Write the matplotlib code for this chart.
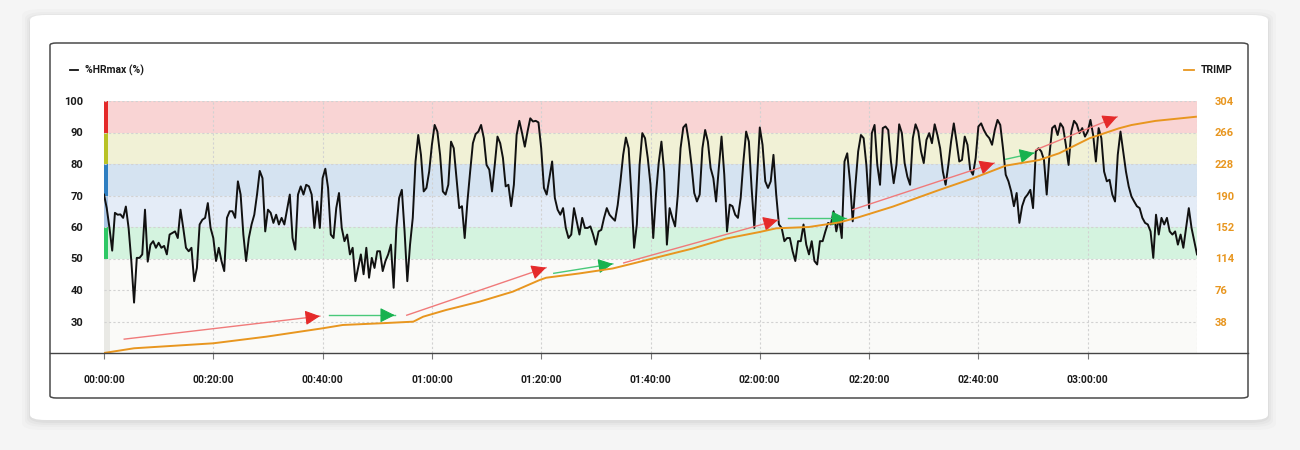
import matplotlib
matplotlib.use("Agg")
import matplotlib.pyplot as plt
import numpy as np
from matplotlib.patches import FancyBboxPatch, Rectangle
from matplotlib.lines import Line2D
from matplotlib.ticker import FuncFormatter

plt.rcParams['font.family'] = ['Roboto', 'DejaVu Sans']

# ---------------- data ----------------
SAMPLE_MIN = 0.5  # one HR sample every 30 s
hr_pct = [
    70.3, 66.0, 59.7, 52.5, 64.5, 63.9, 64.0, 62.9, 66.5, 59.7,
    49.2, 36.0, 50.2, 50.2, 51.3, 65.5, 49.0, 54.4, 55.5, 53.4,
    55.0, 53.4, 54.0, 51.3, 57.6, 58.1, 58.6, 56.5, 65.5, 59.7,
    53.4, 52.3, 53.4, 42.8, 47.0, 60.8, 62.3, 62.9, 67.6, 59.7,
    56.5, 49.2, 53.4, 49.2, 46.0, 62.9, 65.0, 65.0, 62.9, 74.5,
    70.3, 57.6, 49.2, 56.5, 60.8, 63.9, 70.3, 77.8, 75.5, 58.6,
    65.5, 64.5, 61.3, 63.9, 60.8, 62.9, 60.8, 65.5, 70.3, 56.5,
    52.8, 70.3, 72.9, 70.3, 73.4, 72.9, 70.3, 59.7, 68.1, 59.7,
    75.5, 78.5, 72.4, 57.6, 56.5, 66.0, 70.8, 59.7, 55.5, 57.6,
    51.3, 53.4, 42.8, 47.0, 51.3, 45.0, 53.4, 43.9, 50.2, 47.0,
    52.3,
    52.3, 46.0, 49.2, 51.3, 54.4, 40.7, 59.7, 69.2, 71.8, 58.6,
    42.8, 54.4, 62.9, 80.8, 89.2, 82.9, 71.3, 72.4, 77.6, 86.1,
    92.4, 90.3, 82.9, 71.3, 70.3, 73.4, 87.1, 85.0, 75.5, 66.0,
    66.6, 56.5, 68.1, 77.6, 86.6, 89.5, 90.3, 92.4, 88.2, 79.7,
    78.2, 71.3, 79.7, 88.7, 86.6, 81.9, 72.9, 73.4, 66.6, 73.4,
    89.2, 93.7, 89.8, 85.5, 90.3, 94.5, 93.5, 93.7, 93.2, 85.0,
    72.4, 70.3, 75.5, 80.8, 69.2, 65.5, 63.9, 66.0, 59.7, 56.5,
    57.6, 66.0, 61.8, 57.6, 62.9, 59.7, 59.7, 60.2, 57.6, 54.4,
    58.6, 59.1, 62.9, 66.0, 63.9, 62.9, 62.0, 67.0, 74.5, 82.9,
    88.4, 85.0, 70.3, 53.4, 60.8, 79.7, 89.8, 88.2, 81.9, 73.4,
    56.5, 70.3, 80.3,
    87.1, 77.6, 54.4, 66.0, 62.9, 60.2, 70.3, 85.0, 91.6, 92.6,
    87.1, 79.7, 70.8, 68.1, 70.3, 85.0, 90.8, 87.1, 78.7, 75.5,
    68.1, 78.7, 88.7, 76.6, 58.6, 67.1, 66.6, 63.9, 62.9, 69.2,
    80.8, 90.3, 87.1, 72.4, 59.7, 75.5, 91.6, 86.1, 74.5, 72.4,
    74.5, 82.9, 70.3, 60.8, 59.7, 55.5, 56.5, 56.5, 52.3, 49.2,
    55.5, 55.5, 60.8, 54.4, 51.3, 55.5, 49.2, 48.1, 55.5, 55.5,
    58.6, 61.3, 60.8, 65.0, 58.6, 62.9, 56.5, 80.8, 83.4, 74.5,
    61.8, 73.4, 84.0, 89.2, 88.2, 79.7, 66.0, 89.8, 92.4, 79.7,
    73.4, 91.4, 91.9, 90.8, 80.8, 73.9, 79.7, 92.6, 89.8, 80.3,
    76.0, 73.4, 88.2, 92.6, 90.3, 84.0, 80.3, 87.7, 89.8, 86.6,
    92.6, 89.2,
    85.0, 77.6, 73.4, 79.7, 87.1, 92.9, 87.1, 80.8, 81.3, 88.7,
    86.1, 78.2, 76.6, 81.9, 91.9, 92.9, 90.8, 89.2, 88.2, 86.1,
    90.8, 94.0, 92.4, 85.0, 76.6, 74.5, 71.3, 66.6, 70.8, 61.3,
    66.6, 69.2, 70.3, 71.8, 66.0, 84.0, 85.0, 84.0, 81.3, 70.3,
    82.9, 91.4, 92.2, 89.2, 92.9, 91.6, 86.1, 79.7, 90.3, 93.7,
    92.6, 89.8, 91.4, 88.7, 90.3, 94.0, 89.2, 80.8, 91.4, 88.2,
    77.6, 74.5, 75.0, 70.3, 68.1, 82.9, 90.3, 84.0, 77.6, 72.9,
    69.7, 68.1, 66.6, 66.0, 62.9, 61.3, 60.8, 58.6, 50.2, 63.9,
    57.6, 62.9, 60.8, 62.9, 58.6, 57.6, 58.6, 54.4, 57.6, 53.4,
    59.7, 66.0, 59.7, 55.5, 51.3,
]
hr_minutes = np.arange(len(hr_pct)) * SAMPLE_MIN

trimp_minutes = [0, 5.5, 20, 29.7, 40, 43.7, 50.5, 56.6, 58.4, 62.6, 68.7, 74.8,
                 79.7, 80.9, 87, 93.1, 96.8, 101.6, 107.7, 113.8, 120, 123, 129,
                 134.6, 138.2, 144.3, 152.8, 159, 165, 171.1, 174.8, 180.3, 185.7,
                 188, 192.4, 199.8]
trimp_values = [0, 5.7, 11.7, 19.7, 29.8, 33.8, 35.8, 37.8, 43.8, 51.9, 61.9, 74,
                88, 90.8, 96, 102, 108, 116, 126, 138, 146, 150.4, 152,
                157.6, 164, 176.5, 196.6, 210.7, 226, 232.8, 241, 259, 271,
                275, 280, 285]

zone_edges = [50, 60, 70, 80, 90, 100]
zone_fill = ['#d4f3df', '#e4ecf7', '#d5e3f1', '#f1f1d6', '#f9d4d4']
zone_mark = ['#2fc866', '#a9c5e4', '#2f7fc1', '#b9c226', '#e42a2a']

hr_ticks = [30, 40, 50, 60, 70, 80, 90, 100]
trimp_ticks = [38, 76, 114, 152, 190, 228, 266, 304]
time_ticks = [0, 20, 40, 60, 80, 100, 120, 140, 160, 180]

# arrows: (start_min, start_hr, end_min, end_hr, kind)
arrows = [
    (3.7, 24.4, 39.5, 31.7, 'up'),
    (41.2, 32.0, 53.2, 32.0, 'flat'),
    (55.4, 32.0, 80.9, 47.1, 'up'),
    (82.3, 45.3, 93.1, 48.3, 'flat'),
    (95.1, 48.6, 123.3, 62.2, 'up'),
    (125.1, 62.7, 135.8, 62.7, 'flat'),
    (137.0, 65.5, 162.9, 80.3, 'up'),
    (165.0, 81.5, 170.2, 83.5, 'flat'),
    (170.5, 84.5, 185.4, 95.0, 'up'),
]

# ---------------- figure ----------------
W, H = 1300, 450
fig = plt.figure(figsize=(13, 4.5), dpi=100)
fig.patch.set_facecolor('#f5f5f5')

def px_box(x0, y0, x1, y1):
    return (x0 / W, 1 - y1 / H, (x1 - x0) / W, (y1 - y0) / H)

# card shadow + card
for off, a in [(8, 0.015), (5, 0.02), (3, 0.025), (1, 0.03)]:
    bx, by, bw, bh = px_box(30 - off, 15 - off + 2, 1268 + off, 420 + off + 2)
    fig.patches.append(FancyBboxPatch((bx, by), bw, bh, boxstyle="round,pad=0,rounding_size=0.015",
                                      transform=fig.transFigure, facecolor='black', alpha=a,
                                      edgecolor='none', zorder=0))
bx, by, bw, bh = px_box(30, 15, 1268, 420)
fig.patches.append(FancyBboxPatch((bx, by), bw, bh, boxstyle="round,pad=0,rounding_size=0.012",
                                  transform=fig.transFigure, facecolor='white',
                                  edgecolor='none', zorder=1))
bx, by, bw, bh = px_box(50, 43, 1248, 398)
fig.patches.append(FancyBboxPatch((bx, by), bw, bh, boxstyle="round,pad=0,rounding_size=0.005",
                                  transform=fig.transFigure, facecolor='white',
                                  edgecolor='#4a4a4a', linewidth=1.1, zorder=2))

ax = fig.add_axes(px_box(104, 101, 1197, 353))
ax.set_zorder(5)
ax.patch.set_alpha(0)
ax.set_xlim(0, 200)
ax.set_ylim(20, 100)

# zone bands
ax.axhspan(20, 50, color='#fafaf8', zorder=0, lw=0)
for lo, hi, c in zip(zone_edges[:-1], zone_edges[1:], zone_fill):
    ax.axhspan(lo, hi, color=c, zorder=0, lw=0)
# left zone marker bar
ytr = ax.get_yaxis_transform()
ax.add_patch(Rectangle((0, 20), 0.0055, 30, transform=ytr, color='#e9e9e5', zorder=1, lw=0))
for lo, hi, c in zip(zone_edges[:-1], zone_edges[1:], zone_mark):
    ax.add_patch(Rectangle((0, lo), 0.0037, hi - lo, transform=ytr, color=c, zorder=1, lw=0))

# grid
for yv in hr_ticks:
    ax.axhline(yv, color='#d2d2d2', lw=0.8, ls=(0, (2, 2)), zorder=1)
for xv in time_ticks[1:] + [200]:
    ax.axvline(xv, color='#d2d2d2', lw=0.8, ls=(0, (2, 2)), zorder=1)

# HR line
ax.plot(hr_minutes, hr_pct, color='#111111', lw=1.4, zorder=4, solid_joinstyle='round')

# arrows
for x0, y0, x1, y1, kind in arrows:
    lc, hc = ('#f07a7a', '#e52a2a') if kind == 'up' else ('#49c97a', '#17b24f')
    ax.plot([x0, x1], [y0, y1], color=lc, lw=1.0, zorder=6)
    f = 0.985 if abs(x1 - x0) > 20 else 0.96
    ax.annotate('', xy=(x1, y1), xytext=(x0 + (x1 - x0) * f, y0 + (y1 - y0) * f),
                arrowprops=dict(arrowstyle='-|>,head_length=0.9,head_width=0.45', color=hc,
                                lw=0.8, shrinkA=0, shrinkB=0, mutation_scale=10), zorder=7)

# axes styling
for s in ax.spines.values():
    s.set_visible(False)
ax.set_xticks(time_ticks)
ax.xaxis.set_major_formatter(FuncFormatter(lambda m, p: f"{int(m // 60):02d}:{int(m % 60):02d}:00"))
ax.tick_params(axis='x', length=4, color='#777777', pad=12, labelsize=7.5, labelcolor='#1a1a1a')
ax.set_yticks(hr_ticks)
ax.tick_params(axis='y', length=0, pad=15, labelsize=8, labelcolor='#1a1a1a')
for lab in ax.get_xticklabels() + ax.get_yticklabels():
    lab.set_fontweight('bold')

ax2 = ax.twinx()
ax2.set_zorder(6)
ax2.patch.set_alpha(0)
ax2.set_ylim(0, 304)
ax2.plot(trimp_minutes, trimp_values, color='#e8961f', lw=1.4, zorder=5)
ax2.set_yticks(trimp_ticks)
ax2.tick_params(axis='y', length=0, pad=13, labelsize=8, labelcolor='#e8961f')
for lab in ax2.get_yticklabels():
    lab.set_fontweight('bold')
for s in ax2.spines.values():
    s.set_visible(False)

# x axis baseline across the inner box
fig.lines.append(Line2D([50 / W, 1248 / W], [1 - 353 / H] * 2, transform=fig.transFigure,
                        color='#444444', lw=1.0, zorder=10))

# legends
fig.lines.append(Line2D([70 / W, 78 / W], [1 - 70 / H] * 2, transform=fig.transFigure,
                        color='#111111', lw=1.3, zorder=10))
fig.text(85 / W, 1 - 70 / H, '%HRmax (%)', fontsize=7.5, fontweight='bold', color='#1a1a1a',
         va='center', ha='left', zorder=10)
fig.lines.append(Line2D([1184 / W, 1194 / W], [1 - 70 / H] * 2, transform=fig.transFigure,
                        color='#e8961f', lw=1.3, zorder=10))
fig.text(1201 / W, 1 - 70 / H, 'TRIMP', fontsize=7.5, fontweight='bold', color='#1a1a1a',
         va='center', ha='left', zorder=10)

fig.savefig('out.png', dpi=100, facecolor=fig.get_facecolor())
